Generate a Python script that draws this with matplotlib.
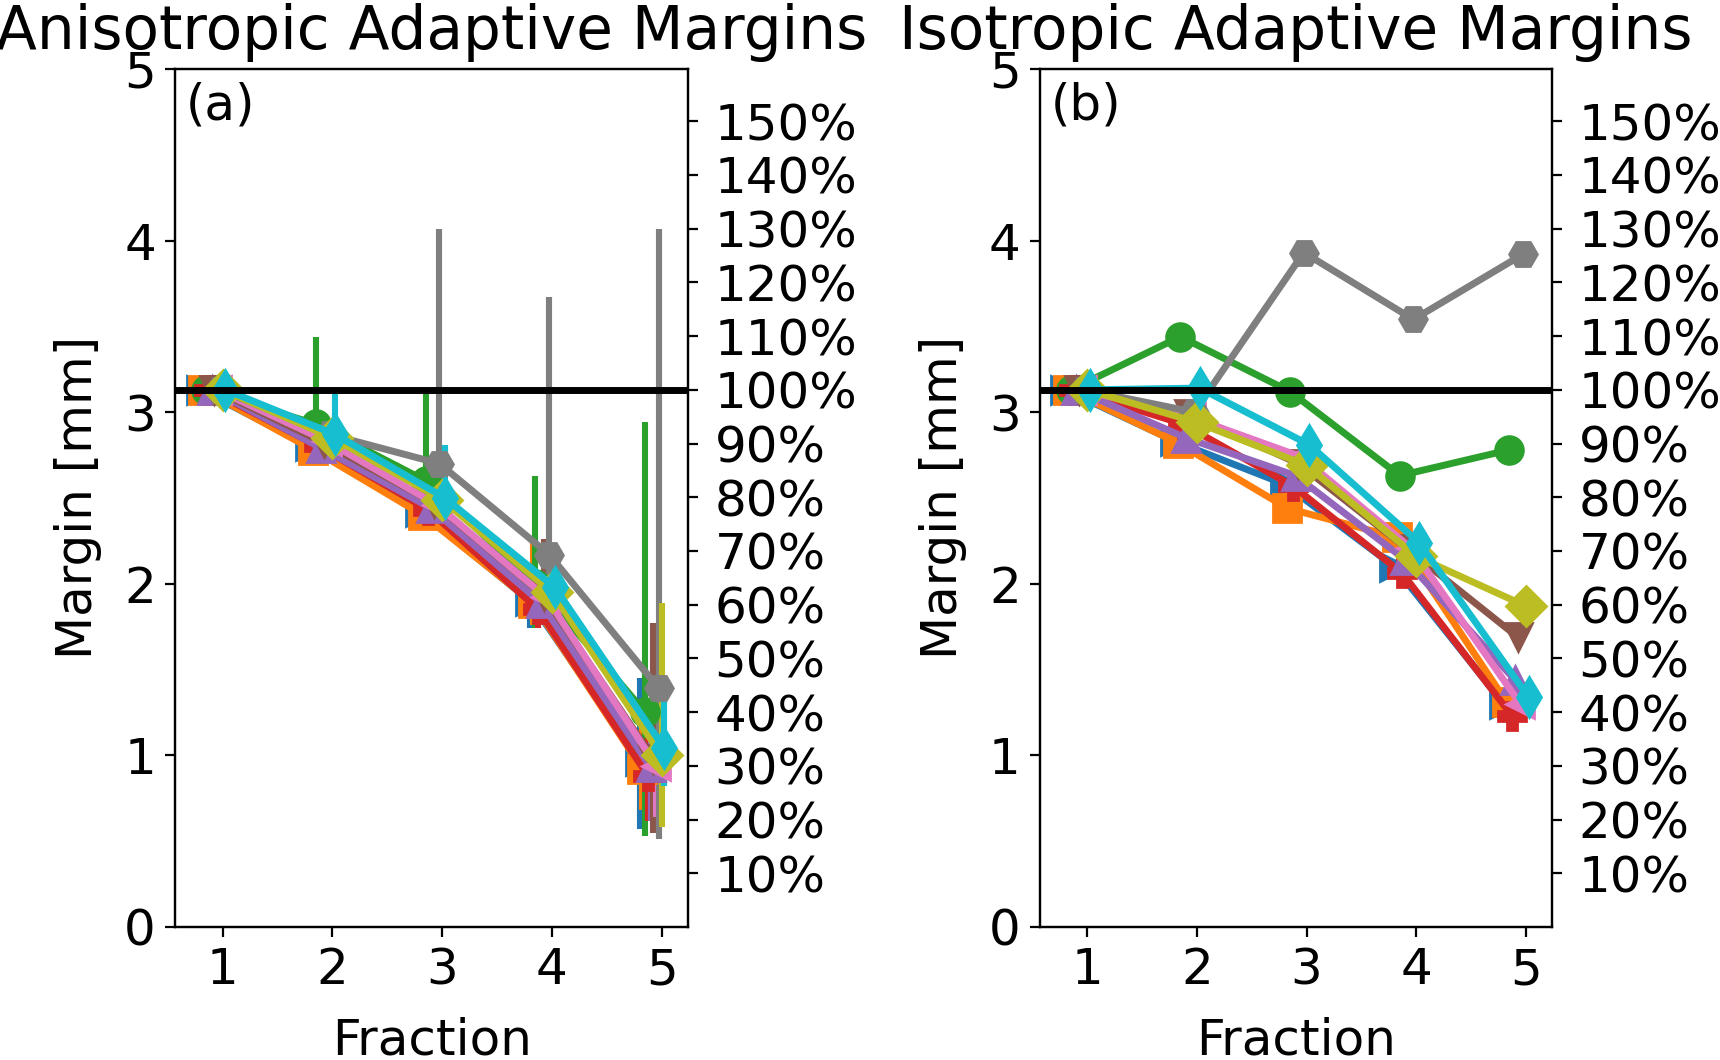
import numpy as np
import matplotlib
matplotlib.use("Agg")
import matplotlib.pyplot as plt
from matplotlib.ticker import FuncFormatter

fractions = [1, 2, 3, 4, 5]
ref_margin = 3.13
markers = ['>', 's', 'o', 'P', '^', 'v', '<', 'H', 'D', 'd']

# anisotropic: mean margin per series, with min / max of the spread
aniso_mean = [
    [3.13, 2.80, 2.42, 1.90, 0.97],
    [3.13, 2.78, 2.40, 1.89, 0.92],
    [3.13, 2.93, 2.60, 2.00, 1.25],
    [3.13, 2.80, 2.43, 1.85, 0.88],
    [3.13, 2.79, 2.44, 1.89, 0.93],
    [3.13, 2.82, 2.47, 1.93, 0.98],
    [3.13, 2.83, 2.46, 1.92, 0.94],
    [3.13, 2.87, 2.70, 2.17, 1.39],
    [3.13, 2.85, 2.49, 1.95, 1.00],
    [3.13, 2.87, 2.50, 1.98, 1.04],
]
aniso_min = [
    [3.13, 2.76, 2.33, 1.74, 0.57],
    [3.13, 2.74, 2.32, 1.76, 0.68],
    [3.13, 2.85, 2.40, 1.74, 0.53],
    [3.13, 2.76, 2.34, 1.74, 0.62],
    [3.13, 2.75, 2.35, 1.78, 0.62],
    [3.13, 2.78, 2.38, 1.80, 0.55],
    [3.13, 2.79, 2.37, 1.78, 0.64],
    [3.13, 2.80, 2.45, 1.90, 0.51],
    [3.13, 2.80, 2.40, 1.82, 0.58],
    [3.13, 2.80, 2.40, 1.85, 0.82],
]
aniso_max = [
    [3.13, 2.86, 2.50, 2.02, 1.45],
    [3.13, 2.84, 2.55, 2.28, 1.20],
    [3.13, 3.44, 3.11, 2.63, 2.94],
    [3.13, 2.85, 2.50, 1.95, 1.10],
    [3.13, 2.84, 2.52, 2.00, 1.10],
    [3.13, 2.88, 2.56, 2.26, 1.77],
    [3.13, 2.89, 2.55, 2.02, 1.12],
    [3.13, 2.95, 4.07, 3.67, 4.07],
    [3.13, 2.92, 2.58, 2.05, 1.89],
    [3.13, 3.12, 2.81, 2.10, 1.33],
]

# isotropic: mean margin per series
iso_mean = [
    [3.13, 2.83, 2.58, 2.10, 1.30],
    [3.13, 2.82, 2.44, 2.27, 1.31],
    [3.13, 3.44, 3.12, 2.63, 2.78],
    [3.13, 2.93, 2.57, 2.06, 1.23],
    [3.13, 2.85, 2.63, 2.14, 1.44],
    [3.13, 2.99, 2.70, 2.20, 1.69],
    [3.13, 2.97, 2.74, 2.21, 1.30],
    [3.13, 3.00, 3.93, 3.54, 3.92],
    [3.13, 2.94, 2.69, 2.16, 1.87],
    [3.13, 3.14, 2.81, 2.24, 1.34],
]

plt.rcParams['font.size'] = 18
colors = plt.rcParams['axes.prop_cycle'].by_key()['color']

fig = plt.figure(figsize=(8.6, 5.3), dpi=200)
ax_a = fig.add_axes([0.102, 0.1255, 0.298, 0.8095])
ax_b = fig.add_axes([0.6047, 0.1255, 0.2977, 0.8095])


def pct(v, pos):
    return "%d%%" % v


def setup(ax, title, tag):
    ax.set_xlim(0.57, 5.24)
    ax.set_ylim(0, 5)
    ax.set_xticks(fractions)
    ax.set_yticks([0, 1, 2, 3, 4, 5])
    ax.set_xlabel("Fraction", labelpad=8)
    ax.set_ylabel("Margin [mm]", labelpad=8)
    ax.set_title(title, fontsize=21.5, pad=7)
    ax.text(0.02, 0.985, tag, transform=ax.transAxes, va='top', ha='left')
    ax2 = ax.twinx()
    ax2.set_ylim(0, 5 / ref_margin * 100)
    ax2.set_yticks(np.arange(10, 151, 10))
    ax2.yaxis.set_major_formatter(FuncFormatter(pct))
    ax2.tick_params(axis='y', pad=6)
    ax2.axhline(100, color='black', lw=2.5)
    return ax2


for i in range(10):
    x = np.array(fractions) - 0.2 + 0.025 * i
    m = np.array(aniso_mean[i])
    err = [m - np.array(aniso_min[i]), np.array(aniso_max[i]) - m]
    ax_a.errorbar(x, m, yerr=err, color=colors[i], marker=markers[i],
                  markersize=10, lw=2.5, elinewidth=2.2, capsize=0)
    ax_b.plot(x, iso_mean[i], color=colors[i], marker=markers[i],
              markersize=10, lw=2.5)

setup(ax_a, "Anisotropic Adaptive Margins", "(a)")
setup(ax_b, "Isotropic Adaptive Margins", "(b)")

fig.savefig("out.png", dpi=200)
